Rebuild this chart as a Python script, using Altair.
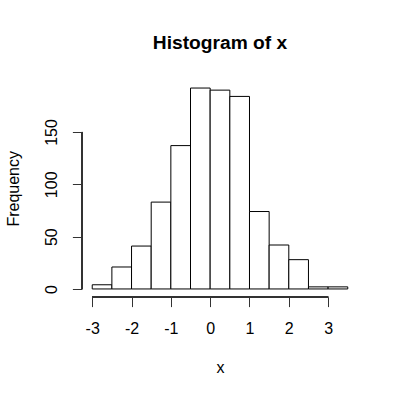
import altair as alt
import pandas as pd

# Histogram bins (edges) and counts
bin_edges = [-3.0, -2.5, -2.0, -1.5, -1.0, -0.5, 0.0, 0.5, 1.0, 1.5, 2.0, 2.5, 3.0, 3.5]
counts = [4, 21, 41, 83, 137, 192, 190, 184, 74, 42, 28, 2, 2]
x_ticks = [-3, -2, -1, 0, 1, 2, 3]
y_ticks = [0, 50, 100, 150]

df = pd.DataFrame({
    "start": bin_edges[:-1],
    "end": bin_edges[1:],
    "count": counts,
})
df["zero"] = 0

W, H = 276, 217
FONT = "Liberation Sans"
AX = "#333333"

xscale = alt.Scale(domain=[-3.26, 3.76], nice=False, zero=False)
yscale = alt.Scale(domain=[-7.68, 199.68], nice=False, zero=False)

bars = alt.Chart(df).mark_rect(fill="white", stroke="black", strokeWidth=1).encode(
    x=alt.X("start:Q", scale=xscale,
            axis=alt.Axis(values=x_ticks, domain=False, grid=False, tickSize=9.6,
                          tickColor=AX, tickWidth=1, labelFontSize=16, labelFont=FONT,
                          labelColor="black", labelBaseline="alphabetic", labelPadding=27,
                          labelAngle=0, labelFlush=False, labelExpr="datum.value + ''",
                          title="x", titleFont=FONT, titleFontSize=16, titleFontWeight="normal",
                          titleColor="black", titleBaseline="alphabetic", titleX=W / 2,
                          titleY=75, titleAnchor="middle")),
    x2="end:Q",
    y=alt.Y("count:Q", scale=yscale,
            axis=alt.Axis(values=y_ticks, domain=False, grid=False, tickSize=9.6,
                          tickColor=AX, tickWidth=1, labelFontSize=16, labelFont=FONT,
                          labelColor="black", labelAngle=-90, labelAlign="center",
                          labelBaseline="alphabetic", labelPadding=16, labelFlush=False,
                          labelExpr="datum.value + ''",
                          title="Frequency", titleFont=FONT, titleFontSize=16,
                          titleFontWeight="normal", titleColor="black",
                          titleBaseline="alphabetic", titleAngle=-90, titleX=-63.5,
                          titleY=108.3, titleAnchor="middle")),
    y2="zero:Q",
)

xline = alt.Chart(df).mark_rule(color=AX, strokeWidth=1).encode(
    x=alt.datum(-3, scale=xscale), x2=alt.datum(3), y=alt.value(H)
)
yline = alt.Chart(df).mark_rule(color=AX, strokeWidth=1).encode(
    y=alt.datum(0, scale=yscale), y2=alt.datum(150), x=alt.value(0)
)

chart = alt.layer(bars, xline, yline).properties(
    width=W, height=H,
    background="white",
    title=alt.Title("Histogram of x", font=FONT, fontSize=19.2, fontWeight="bold",
                    color="black", anchor="middle", baseline="alphabetic", offset=12),
    autosize=alt.AutoSizeParams(type="none"),
    padding={"left": 82, "top": 80, "right": 41, "bottom": 102},
).configure_view(strokeWidth=0, stroke="transparent")

chart.save("out.html", embed_options={"renderer": "svg", "actions": False})
